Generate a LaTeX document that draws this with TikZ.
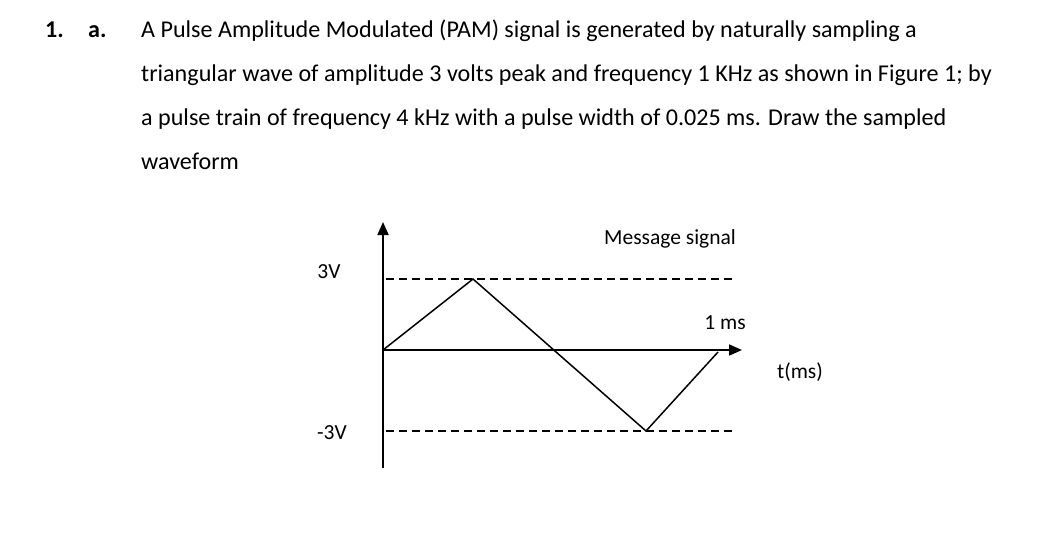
\documentclass[tikz,border=0pt]{standalone}
\usepackage{fontspec}
\setmainfont{Carlito}
\usetikzlibrary{arrows.meta}
\begin{document}
\begin{tikzpicture}[x=1pt,y=-1pt,
  body/.style={anchor=base west,inner sep=0pt,font=\fontsize{24.1}{28}\selectfont},
  lab/.style={inner sep=0pt,font=\fontsize{21.5}{25}\selectfont},
  axis/.style={line width=1.8pt,-{Triangle[length=13pt,width=11pt]}},
  dashln/.style={dash pattern=on 8pt off 5pt,line width=1.2pt},
  wave/.style={line width=1.5pt}]
\useasboundingbox (0,0) rectangle (1048,533);
\node[body,font=\fontsize{24.1}{28}\selectfont\bfseries] (n1) at (45,37) {1.};
\node[body,font=\fontsize{24.1}{28}\selectfont\bfseries] (na) at (88,37) {a.};
\node[body] (l1) at (141,37) {A Pulse Amplitude Modulated (PAM) signal is generated by naturally sampling a};
\node[body] (l2) at (141,81) {triangular wave of amplitude 3 volts peak and frequency 1 KHz as shown in Figure 1; by};
\node[body] (l3) at (141,125) {a pulse train of frequency 4 kHz with a pulse width of 0.025 ms. Draw the sampled};
\node[body] (l4) at (141,169) {waveform};
\coordinate (o) at (383,350);
\coordinate (bot) at (383,468);
\coordinate (top) at (383,222);
\coordinate (xend) at (742,350);
\coordinate (p) at (473,279);
\coordinate (m) at (646,431);
\coordinate (e) at (718,352);
\coordinate (d1a) at (386,279);
\coordinate (d1b) at (736,279);
\coordinate (d2a) at (386,431);
\coordinate (d2b) at (736,431);
\draw[axis] (bot) -- (top);
\draw[axis] (o) -- (xend);
\draw[dashln] (d1a) -- (d1b);
\draw[dashln] (d2a) -- (d2b);
\draw[wave] (o) -- (p) -- (m) -- (e);
\node[lab] (v3) at (329,272) {3V};
\node[lab] (vm3) at (332,433) {-3V};
\node[lab] (ms) at (670,239) {Message signal};
\node[lab] (one) at (725,323) {1 ms};
\node[lab] (t) at (800,372) {t(ms)};
\end{tikzpicture}
\end{document}
